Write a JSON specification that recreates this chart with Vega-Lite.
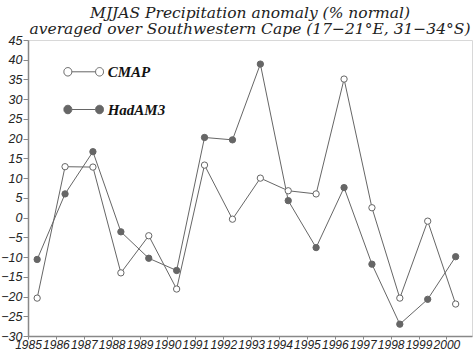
{
  "$schema": "https://vega.github.io/schema/vega-lite/v6.json",
  "width": 444,
  "height": 296,
  "autosize": {"type": "none"},
  "padding": {"left": 28, "top": 40, "right": 2, "bottom": 15},
  "background": "white",
  "title": {
    "text": ["MJJAS Precipitation anomaly (% normal)", "averaged over Southwestern Cape (17−21°E, 31−34°S)"],
    "font": "DejaVu Serif",
    "fontStyle": "italic",
    "fontWeight": "normal",
    "fontSize": 15.5,
    "lineHeight": 15.5,
    "color": "#222",
    "anchor": "middle",
    "offset": -3
  },
  "config": {
    "view": {"stroke": "#d8d8d8"},
    "axis": {"grid": false}
  },
  "data": {
    "values": [
      {"date": "1985-05-01", "series": "CMAP", "value": -20.4},
      {"date": "1986-05-01", "series": "CMAP", "value": 12.9},
      {"date": "1987-05-01", "series": "CMAP", "value": 12.8},
      {"date": "1988-05-01", "series": "CMAP", "value": -14.0},
      {"date": "1989-05-01", "series": "CMAP", "value": -4.6},
      {"date": "1990-05-01", "series": "CMAP", "value": -18.1},
      {"date": "1991-05-01", "series": "CMAP", "value": 13.3},
      {"date": "1992-05-01", "series": "CMAP", "value": -0.4},
      {"date": "1993-05-01", "series": "CMAP", "value": 10.0},
      {"date": "1994-05-01", "series": "CMAP", "value": 6.8},
      {"date": "1995-05-01", "series": "CMAP", "value": 6.0},
      {"date": "1996-05-01", "series": "CMAP", "value": 35.1},
      {"date": "1997-05-01", "series": "CMAP", "value": 2.5},
      {"date": "1998-05-01", "series": "CMAP", "value": -20.4},
      {"date": "1999-05-01", "series": "CMAP", "value": -0.9},
      {"date": "2000-05-01", "series": "CMAP", "value": -21.9},
      {"date": "1985-05-01", "series": "HadAM3", "value": -10.6},
      {"date": "1986-05-01", "series": "HadAM3", "value": 6.0},
      {"date": "1987-05-01", "series": "HadAM3", "value": 16.7},
      {"date": "1988-05-01", "series": "HadAM3", "value": -3.6},
      {"date": "1989-05-01", "series": "HadAM3", "value": -10.3},
      {"date": "1990-05-01", "series": "HadAM3", "value": -13.4},
      {"date": "1991-05-01", "series": "HadAM3", "value": 20.3},
      {"date": "1992-05-01", "series": "HadAM3", "value": 19.7},
      {"date": "1993-05-01", "series": "HadAM3", "value": 38.9},
      {"date": "1994-05-01", "series": "HadAM3", "value": 4.3},
      {"date": "1995-05-01", "series": "HadAM3", "value": -7.6},
      {"date": "1996-05-01", "series": "HadAM3", "value": 7.6},
      {"date": "1997-05-01", "series": "HadAM3", "value": -11.8},
      {"date": "1998-05-01", "series": "HadAM3", "value": -27.0},
      {"date": "1999-05-01", "series": "HadAM3", "value": -20.7},
      {"date": "2000-05-01", "series": "HadAM3", "value": -9.9}
    ]
  },
  "encoding": {
    "x": {
      "field": "date",
      "type": "temporal",
      "title": null,
      "scale": {
        "type": "utc",
        "nice": false,
        "domain": [
          {"year": 1985, "month": 1, "date": 1, "utc": true},
          {"year": 2000, "month": 12, "date": 1, "utc": true}
        ]
      },
      "axis": {
        "format": "%Y",
        "tickCount": {"interval": "year", "step": 1},
        "labelOverlap": false,
        "labelFlush": false,
        "labelBound": false,
        "labelFont": "Liberation Sans",
        "labelFontStyle": "italic",
        "labelFontSize": 12,
        "labelColor": "#222",
        "labelPadding": 0,
        "tickSize": 3,
        "tickColor": "#888",
        "domainColor": "#888",
        "domainWidth": 1.5
      }
    },
    "y": {
      "field": "value",
      "type": "quantitative",
      "title": null,
      "scale": {"domain": [-30, 45], "nice": false, "zero": false},
      "axis": {
        "values": [-30, -25, -20, -15, -10, -5, 0, 5, 10, 15, 20, 25, 30, 35, 40, 45],
        "labelOverlap": false,
        "labelFlush": false,
        "labelBound": false,
        "labelFont": "Liberation Sans",
        "labelFontStyle": "italic",
        "labelFontSize": 12.5,
        "labelColor": "#222",
        "labelPadding": 1,
        "tickSize": 5,
        "tickColor": "#888",
        "domainColor": "#888",
        "domainWidth": 1.5
      }
    }
  },
  "layer": [
    {
      "mark": {"type": "line", "color": "#666", "strokeWidth": 1},
      "encoding": {"detail": {"field": "series"}}
    },
    {
      "mark": {"type": "point", "filled": true, "shape": "circle", "size": 40, "stroke": "#666", "strokeWidth": 1, "opacity": 1},
      "encoding": {
        "fill": {
          "field": "series",
          "type": "nominal",
          "scale": {"domain": ["CMAP", "HadAM3"], "range": ["white", "#666"]},
          "legend": {
            "title": null,
            "orient": "none",
            "legendX": 36.7,
            "legendY": 12.8,
            "padding": 0,
            "rowPadding": 10.7,
            "symbolType": "M-0.64,0L0.64,0M-1.07,0A0.214,0.214,0,1,0,-0.643,0A0.214,0.214,0,1,0,-1.07,0ZM0.643,0A0.214,0.214,0,1,0,1.07,0A0.214,0.214,0,1,0,0.643,0Z",
            "symbolSize": 1369,
            "symbolStrokeColor": "#666",
            "symbolStrokeWidth": 1,
            "symbolOpacity": 1,
            "labelOffset": 5,
            "labelFont": "Liberation Serif",
            "labelFontStyle": "italic",
            "labelFontWeight": "bold",
            "labelFontSize": 15,
            "labelColor": "#111"
          }
        }
      }
    },
    {
      "data": {"values": [{}]},
      "mark": {"type": "rule", "color": "#777", "strokeWidth": 2},
      "encoding": {"y": {"datum": 45}, "x": null}
    }
  ]
}
